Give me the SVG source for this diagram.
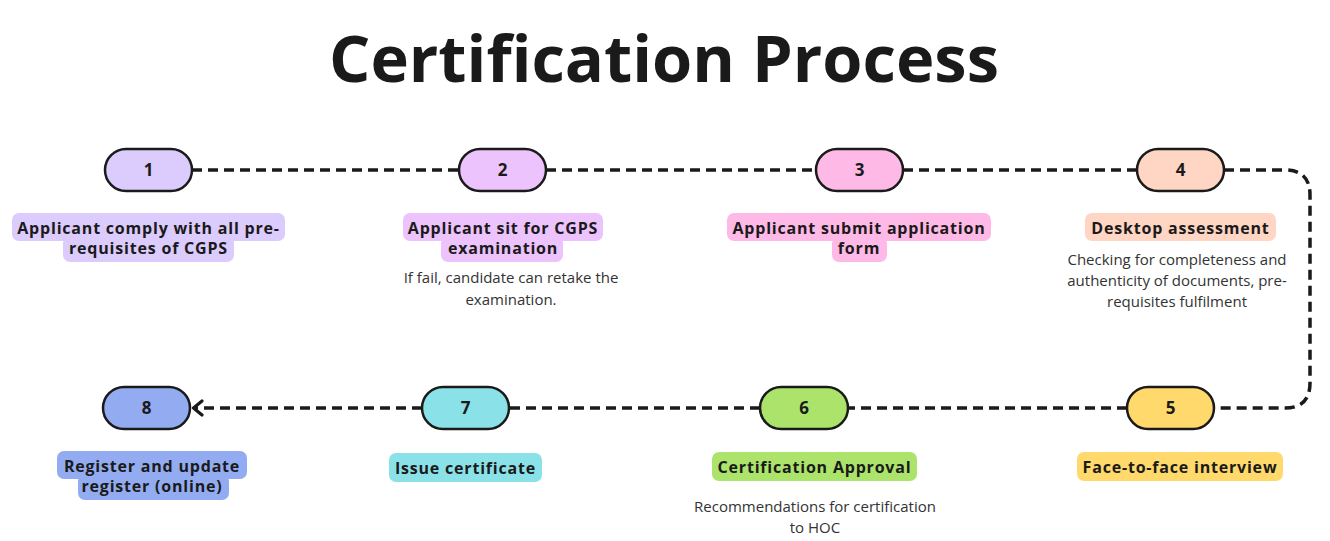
<svg xmlns="http://www.w3.org/2000/svg" width="1330" height="541" viewBox="0 0 1330 541">
<defs>
<style>
.t{font-family:"Open Sans","Noto Sans","Liberation Sans",sans-serif;fill:#1a1a1a}
.title{font-size:65px;font-weight:700;text-anchor:middle}
.num{font-size:17px;font-weight:700;text-anchor:middle}
.lab{font-size:16px;font-weight:700;text-anchor:middle;letter-spacing:0.8px}
.desc{font-size:15px;font-weight:400;text-anchor:middle;fill:#333}
.pill{stroke:#1a1a1a;stroke-width:2.5}
.conn{fill:none;stroke:#1a1a1a;stroke-width:3.5;stroke-dasharray:10 6}
</style>
<marker id="arr" viewBox="0 0 14 18" refX="12" refY="9" markerWidth="14" markerHeight="18" markerUnits="userSpaceOnUse" orient="auto">
<path d="M3 2 L11.5 9 L3 16" fill="none" stroke="#1a1a1a" stroke-width="3.2" stroke-linecap="round" stroke-linejoin="round"/>
</marker>
</defs>
<rect width="1330" height="541" fill="#ffffff"/>
<text class="t title" x="664" y="82">Certification Process</text>

<g id="connectors">
<path class="conn" d="M192 170 H459"/>
<path class="conn" d="M546 170 H816"/>
<path class="conn" d="M903 170 H1137"/>
<path class="conn" d="M1224 170 H1285 Q1310 170 1310 195 V383 Q1310 408 1285 408 H1214"/>
<path class="conn" d="M1127 408 H848"/>
<path class="conn" d="M760 408 H509"/>
<path class="conn" d="M422 408 H193" marker-end="url(#arr)"/>
</g>

<g id="node1">
<rect class="pill" x="105" y="149" width="87" height="42" rx="21" fill="#dccbfd"/>
<text class="t num" x="148.5" y="176">1</text>
<rect x="12" y="213" width="273" height="28" rx="7" fill="#dccbfd"/>
<rect x="63" y="236" width="171" height="26" rx="7" fill="#dccbfd"/>
<text class="t lab" x="148.5" y="234">Applicant comply with all pre-</text>
<text class="t lab" x="148.5" y="254">requisites of CGPS</text>
</g>

<g id="node2">
<rect class="pill" x="459" y="149" width="87" height="42" rx="21" fill="#ecc3fd"/>
<text class="t num" x="502.5" y="176">2</text>
<rect x="403" y="213" width="200" height="28" rx="7" fill="#ecc3fd"/>
<rect x="441" y="236" width="122" height="26" rx="7" fill="#ecc3fd"/>
<text class="t lab" x="503" y="234">Applicant sit for CGPS</text>
<text class="t lab" x="503" y="254">examination</text>
<text class="t desc" x="511" y="283">If fail, candidate can retake the</text>
<text class="t desc" x="511" y="305">examination.</text>
</g>

<g id="node3">
<rect class="pill" x="816" y="149" width="87" height="42" rx="21" fill="#feb9e6"/>
<text class="t num" x="859.5" y="176">3</text>
<rect x="727" y="213" width="264" height="28" rx="7" fill="#feb9e6"/>
<rect x="832" y="236" width="55" height="26" rx="7" fill="#feb9e6"/>
<text class="t lab" x="859" y="234">Applicant submit application</text>
<text class="t lab" x="859" y="254">form</text>
</g>

<g id="node4">
<rect class="pill" x="1137" y="149" width="87" height="42" rx="21" fill="#ffd5c3"/>
<text class="t num" x="1180.5" y="176">4</text>
<rect x="1085" y="213" width="191" height="28" rx="7" fill="#ffd5c3"/>
<text class="t lab" x="1180.5" y="234">Desktop assessment</text>
<text class="t desc" x="1177" y="265">Checking for completeness and</text>
<text class="t desc" x="1177" y="286">authenticity of documents, pre-</text>
<text class="t desc" x="1177" y="307">requisites fulfilment</text>
</g>

<g id="node5">
<rect class="pill" x="1127" y="387" width="87" height="42" rx="21" fill="#ffd96c"/>
<text class="t num" x="1170.5" y="414">5</text>
<rect x="1077" y="452" width="206" height="29" rx="7" fill="#ffd96c"/>
<text class="t lab" x="1180" y="473">Face-to-face interview</text>
</g>

<g id="node6">
<rect class="pill" x="760" y="387" width="88" height="42" rx="21" fill="#ace46b"/>
<text class="t num" x="804" y="414">6</text>
<rect x="712" y="452" width="205" height="29" rx="7" fill="#ace46b"/>
<text class="t lab" x="814.5" y="473">Certification Approval</text>
<text class="t desc" x="815" y="512">Recommendations for certification</text>
<text class="t desc" x="815" y="533">to HOC</text>
</g>

<g id="node7">
<rect class="pill" x="422" y="387" width="87" height="42" rx="21" fill="#8ae2e8"/>
<text class="t num" x="465.5" y="414">7</text>
<rect x="389" y="453" width="153" height="29" rx="7" fill="#8ae2e8"/>
<text class="t lab" x="465.5" y="474">Issue certificate</text>
</g>

<g id="node8">
<rect class="pill" x="103" y="387" width="87" height="42" rx="21" fill="#93acf1"/>
<text class="t num" x="146.5" y="414">8</text>
<rect x="57" y="451" width="190" height="28" rx="7" fill="#93acf1"/>
<rect x="78" y="474" width="151" height="26" rx="7" fill="#93acf1"/>
<text class="t lab" x="152" y="472">Register and update</text>
<text class="t lab" x="152" y="492">register (online)</text>
</g>
</svg>
